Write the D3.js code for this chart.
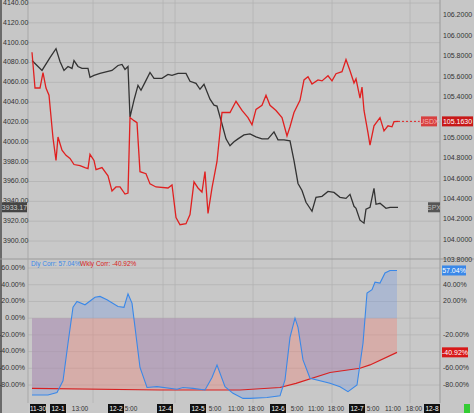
<!DOCTYPE html><html><head><script src="https://d3js.org/d3.v7.min.js"></script>
<style>body{margin:0;background:#c6c6c6}svg{display:block}</style></head><body><svg id="c" width="474" height="413"></svg>
<script>
const spxT=[4,14,22,28,32,36,40,44,46,50,54,60,62,66,72,80,84,90,94,97,100,102,106,110,113,117,122,126,134,140,144,150,158,162,168,172,176,182,186,189,194,198,202,206,210,216,222,228,234,240,246,250,256,262,266,270,274,278,284,288,294,300,306,312,318,322,326,328,332,336,338,342,346,348,352,358,362,366,370];
const spxV=[4082,4072,4085,4094,4081,4072,4076,4074,4082,4076,4074,4074,4065,4067,4069,4071,4072,4077,4078,4073,4076,4025,4042,4057,4052,4060,4070,4064,4064,4068,4067,4069,4069,4061,4059,4053,4058,4043,4037,4036,4018,4003,3996,4000,4003,4007,4008,4005,4003,4003,4010,4002,4002,4001,3981,3958,3951,3939,3930,3944,3945,3950,3949,3944,3943,3947,3935,3933,3921,3918,3932,3934,3953,3937,3938,3933,3934,3934,3934];
const usdT=[4,7,12,15,18,21,25,28,30,34,38,42,46,52,57,60,62,66,68,74,80,84,88,92,97,100,102,106,109,112,118,122,128,140,144,148,152,158,162,166,170,174,177,180,184,189,194,202,208,214,220,224,228,234,238,242,248,254,259,262,266,272,276,280,284,290,294,300,304,308,314,318,322,326,328,332,334,336,340,342,346,352,356,360,364,366,370];
const usdV=[105.84,105.49,105.49,105.64,105.49,105.42,105.0,104.78,105.01,104.88,104.83,104.8,104.74,104.73,104.71,104.7,104.84,104.78,104.69,104.71,104.63,104.48,104.52,104.52,104.45,104.46,105.2,105.17,105.15,104.67,104.65,104.55,104.52,104.51,104.54,104.22,104.15,104.16,104.25,104.57,104.51,104.47,104.67,104.26,104.51,104.77,105.25,105.25,105.36,105.27,105.2,105.13,105.28,105.32,105.42,105.32,105.27,105.2,105.02,105.11,105.25,105.37,105.57,105.6,105.53,105.57,105.56,105.61,105.56,105.63,105.65,105.77,105.66,105.54,105.58,105.39,105.5,105.27,105.05,104.93,105.12,105.2,105.07,105.12,105.11,105.16,105.163];
const dlyT=[4,20,29,35,40,45,49,57,67,72,79,90,96,100,104,112,119,129,149,155,165,177,184,189,197,205,215,222,239,252,257,262,267,270,275,282,292,302,312,320,329,335,339,344,347,352,357,362,369];
const dlyV=[-92,-92,-89,-75,-30,13,20,16,25,26,22,14,13,29,18,-59,-83,-82,-85,-83,-84,-86,-71,-56,-82,-90,-96,-96,-95,-93,-74,-23,0,-11,-50,-72,-75,-78,-82,-88,-80,-30,30,34,43,42,54,57,57.04];
const wkT=[4,132,212,252,268,302,332,342,369];
const wkV=[-84,-86,-86,-83,-78,-65,-60,-56,-40.92];
const leftTicks=[4140,4120,4100,4080,4060,4040,4020,4000,3980,3960,3940,3920,3900];
const rightTicks=[106.2,106.0,105.8,105.6,105.4,105.0,104.8,104.6,104.4,104.2,104.0,103.8];
const pctTicks=[60,40,20,0,-20,-40,-60,-80];
const vGridT=[65,135,147,225,304,382];
const xLabT=[10,30,52,88,103,137,170,187,208,228,250,269,288,308,329,345,365,386,404];
const xLab=["11-30","12-1","13:00","12-2","5:00","12-4","12-5","5:00","11:00","18:00","12-6","5:00","11:00","18:00","12-7","5:00","11:00","18:00","12-8"];
const xLabBox=[1,1,0,1,0,1,1,0,0,0,1,0,0,0,1,0,0,0,1];

const svg=d3.select("#c");
const x=d3.scaleLinear().domain([0,412]).range([28,440]);
const yL=d3.scaleLinear().domain([3900,4140]).range([241,3]);
const yR=d3.scaleLinear().domain([104,105]).range([240,138]);
const yP=d3.scaleLinear().domain([-80,60]).range([385,268]);
const F="Arial, Liberation Sans, sans-serif";
svg.append("rect").attr("x",28).attr("y",0).attr("width",412).attr("height",413).attr("fill","#c8c8c8");
svg.append("rect").attr("x",0).attr("y",0).attr("width",2).attr("height",413).attr("fill","#6a6a6a");
const g=svg.append("g").attr("stroke","#b2b2b2").attr("stroke-width",0.8);
leftTicks.forEach(v=>g.append("line").attr("x1",28).attr("x2",440).attr("y1",yL(v)).attr("y2",yL(v)));
pctTicks.forEach(v=>g.append("line").attr("x1",28).attr("x2",440).attr("y1",yP(v)).attr("y2",yP(v)));
vGridT.forEach(t=>g.append("line").attr("x1",x(t)).attr("x2",x(t)).attr("y1",0).attr("y2",403));
svg.append("line").attr("x1",0).attr("x2",474).attr("y1",259).attr("y2",259).attr("stroke","#9a9a9a");
svg.append("line").attr("x1",440).attr("x2",440).attr("y1",0).attr("y2",403).attr("stroke","#9a9a9a");
svg.append("line").attr("x1",28).attr("x2",28).attr("y1",0).attr("y2",403).attr("stroke","#a8a8a8");
const lsp=d3.line().x((d,i)=>x(spxT[i])).y(d=>yL(d));
svg.append("path").attr("d",lsp(spxV)).attr("fill","none").attr("stroke","#333").attr("stroke-width",1.3);
const lus=d3.line().x((d,i)=>x(usdT[i])).y(d=>yR(d));
svg.append("path").attr("d",lus(usdV)).attr("fill","none").attr("stroke","#e02020").attr("stroke-width",1.3);
const lastU=usdV[usdV.length-1];
svg.append("line").attr("x1",x(usdT[usdT.length-1])).attr("x2",421).attr("y1",yR(lastU)).attr("y2",yR(lastU)).attr("stroke","#e02020").attr("stroke-dasharray","2,2");
const aw=d3.area().x((d,i)=>x(wkT[i])).y0(yP(0)).y1(d=>yP(d));
svg.append("path").attr("d",aw(wkV)).attr("fill","rgba(230,140,130,0.45)");
const ad=d3.area().x((d,i)=>x(dlyT[i])).y0(yP(0)).y1(d=>yP(d));
svg.append("path").attr("d",ad(dlyV)).attr("fill","rgba(110,150,230,0.3)");
svg.append("path").attr("d",d3.line().x((d,i)=>x(wkT[i])).y(d=>yP(d))(wkV)).attr("fill","none").attr("stroke","#d82020").attr("stroke-width",1.2);
svg.append("path").attr("d",d3.line().x((d,i)=>x(dlyT[i])).y(d=>yP(d))(dlyV)).attr("fill","none").attr("stroke","#3a88e8").attr("stroke-width",1.1);
const T=(t,xx,yy,o={})=>svg.append("text").attr("x",xx).attr("y",yy).text(t).attr("font-family",F).attr("font-size",o.s||7).attr("fill",o.c||"#333").attr("text-anchor",o.a||"start").attr("dominant-baseline","middle");
leftTicks.forEach(v=>T(v.toFixed(2),3,yL(v)));
rightTicks.forEach(v=>T(v.toFixed(4),443,yR(v)));
pctTicks.forEach(v=>T(v.toFixed(2)+"%",25,yP(v),{a:"end"}));
pctTicks.filter(v=>v!==0&&v!==60&&v!==-40).forEach(v=>T(v.toFixed(2)+"%",443,yP(v)));
const box=(t,xx,yy,w,fill,col)=>{svg.append("rect").attr("x",xx).attr("y",yy-5).attr("width",w).attr("height",10).attr("fill",fill);T(t,xx+w/2,yy+0.5,{a:"middle",c:col});};
box("USDX",421,yR(lastU),16,"#d84040","#f4b0b0");
box("105.1630",442,yR(lastU),31,"#c81818","#fff");
box("SPX",428,yL(spxV[spxV.length-1]),12,"#555","#bbb");
box("3933.17",2,yL(spxV[spxV.length-1]),25,"#444","#ccc");
box("57.04%",442,yP(57.04),24,"#3a88e8","#fff");
box("-40.92%",442,yP(-40.92),26,"#d81818","#fff");
T("Dly Corr: 57.04%",31,264,{c:"#3a88e8",s:6.5});
T("Wkly Corr: -40.92%",80,264,{c:"#d82020",s:6.5});
xLab.forEach((l,i)=>{const xx=x(xLabT[i]);if(xLabBox[i]){svg.append("rect").attr("x",xx-8).attr("y",404).attr("width",16).attr("height",9).attr("fill","#111");T(l,xx,409,{a:"middle",c:"#fff",s:6.5});}else T(l,xx,409,{a:"middle",s:6.5});});
svg.append("rect").attr("x",464).attr("y",404).attr("width",6).attr("height",9).attr("fill","#3c3");
</script></body></html>
